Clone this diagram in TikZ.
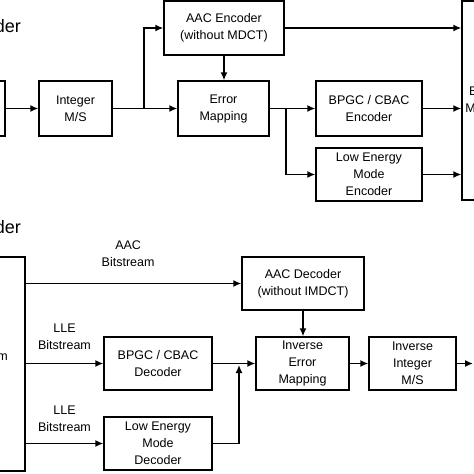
\documentclass[tikz,border=0pt]{standalone}
\usepackage{fontspec}
\setmainfont{Liberation Sans}
\usetikzlibrary{arrows.meta}
\begin{document}
\begin{tikzpicture}[x=1pt, y=-1pt,
	box/.style={draw, line width=1.4pt, align=center, inner sep=2pt, font=\fontsize{12.5}{17}\selectfont},
	lbl/.style={align=center, inner sep=2pt, font=\fontsize{12.5}{17}\selectfont},
	title/.style={anchor=base east, inner sep=0pt, font=\fontsize{18}{20}\selectfont},
	arr/.style={line width=1.4pt, -{Latex[length=8pt,width=7pt]}}]
		\useasboundingbox (0,0) rectangle (474,474);
		\clip (0,0) rectangle (474,474);
		
		% encoder
		\node[title] (enc) at (21, 32) {Encoder};
		\node[box, minimum width=70, minimum height=55] (in) at (-30, 108.5) {};
		\node[box, minimum width=73, minimum height=55] (ims) at (75.5, 108.5) {Integer\\M/S};
		\node[box, minimum width=120, minimum height=54] (aacenc) at (224, 28) {AAC Encoder\\(without MDCT)};
		\node[box, minimum width=91, minimum height=55] (errmap) at (223.5, 108.5) {Error\\Mapping};
		\node[box, minimum width=106, minimum height=55] (bpgc) at (369, 108.5) {BPGC / CBAC\\Encoder};
		\node[box, minimum width=106, minimum height=53] (lem) at (369, 174.5) {Low Energy\\Mode\\Encoder};
		\node[box, minimum width=67, minimum height=199] (mux) at (495.5, 100.5) {Bitstream\\Multiplexer};
		\coordinate (j1) at (144, 108.5);
		\coordinate (j2) at (286, 108.5);
		
		\draw[arr] (in) -- (ims);
		\draw[arr] (ims) -- (errmap);
		\draw[arr] (j1) |- (aacenc);
		\draw[arr] (aacenc.south) -- (aacenc.south |- errmap.north);
		\draw[arr] (aacenc) -- (aacenc -| mux.west);
		\draw[arr] (errmap) -- (bpgc);
		\draw[arr] (j2) |- (lem);
		\draw[arr] (bpgc) -- (bpgc -| mux.west);
		\draw[arr] (lem) -- (lem -| mux.west);
		
		% decoder
		\node[title] (dec) at (21, 233) {Decoder};
		\node[box, minimum width=87, minimum height=214] (demux) at (-18.5, 364) {Bitstream\\\mbox{}};
		\node[box, minimum width=122, minimum height=53] (aacdec) at (303, 283.5) {AAC Decoder\\(without IMDCT)};
		\node[box, minimum width=108, minimum height=53] (bpgcdec) at (158, 363.5) {BPGC / CBAC\\Decoder};
		\node[box, minimum width=108, minimum height=53] (lemdec) at (158, 443.5) {Low Energy\\Mode\\Decoder};
		\node[box, minimum width=93, minimum height=53] (iem) at (302.5, 363.5) {Inverse\\Error\\Mapping};
		\node[box, minimum width=87, minimum height=53] (iims) at (412.5, 363.5) {Inverse\\Integer\\M/S};
		\coordinate (j3) at (239, 363.5);
		\coordinate (out) at (473, 363.5);
		
		\draw[arr] (demux.east |- aacdec) -- node[lbl, above=14pt, pos=0.475] (l1) {AAC\\Bitstream} (aacdec);
		\draw[arr] (demux.east |- bpgcdec) -- node[lbl, above=11pt] (l2) {LLE\\Bitstream} (bpgcdec);
		\draw[arr] (demux.east |- lemdec) -- node[lbl, above=9pt] (l3) {LLE\\Bitstream} (lemdec);
		\draw[arr] (aacdec.south) -- (aacdec.south |- iem.north);
		\draw[arr] (bpgcdec) -- (iem);
		\draw[arr, shorten >=1.5pt] (lemdec) -| (j3);
		\draw[arr] (iem) -- (iims);
		\draw[arr] (iims) -- (out);
\end{tikzpicture}
\end{document}
